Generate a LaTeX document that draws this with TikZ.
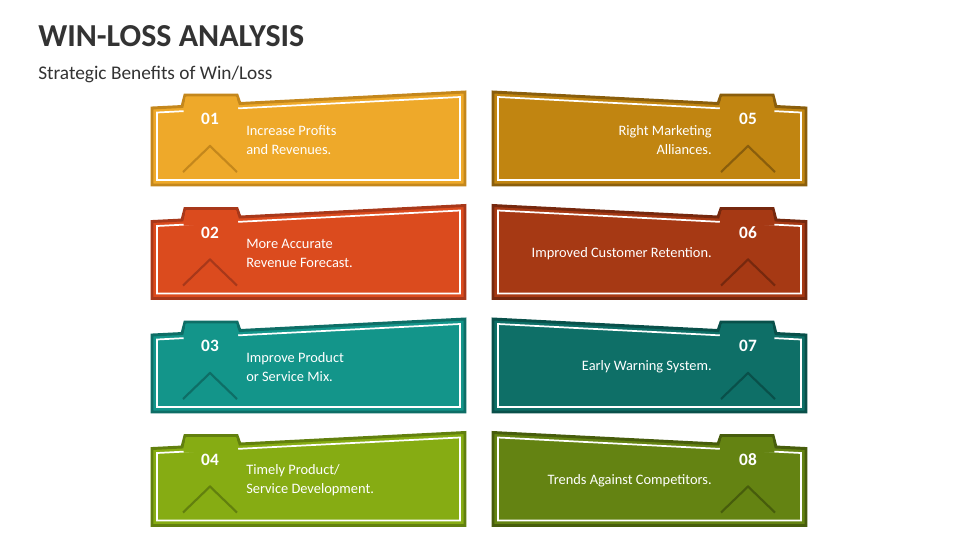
\documentclass[tikz,border=0pt]{standalone}
\usepackage{fontspec}
\setmainfont{Carlito}
\begin{document}
\begin{tikzpicture}[x=0.75pt,y=-0.75pt,
  cardtxt/.style={text=white,font=\fontsize{10.8}{14.3}\selectfont,align=left,anchor=west,inner sep=0},
  cardtxtr/.style={text=white,font=\fontsize{10.8}{14.3}\selectfont,align=right,anchor=east,inner sep=0},
  numtxt/.style={text=white,font=\bfseries\fontsize{13}{15}\selectfont,inner sep=0}]
\definecolor{cA}{HTML}{EEA92A}\definecolor{dA}{HTML}{C4871C}
\definecolor{cB}{HTML}{DB4B1E}\definecolor{dB}{HTML}{A8381A}
\definecolor{cC}{HTML}{13958A}\definecolor{dC}{HTML}{0E6E66}
\definecolor{cD}{HTML}{86AC13}\definecolor{dD}{HTML}{62800E}
\definecolor{cE}{HTML}{C18511}\definecolor{dE}{HTML}{8A5E0C}
\definecolor{cF}{HTML}{A63914}\definecolor{dF}{HTML}{76280E}
\definecolor{cG}{HTML}{0E6F67}\definecolor{dG}{HTML}{09504A}
\definecolor{cH}{HTML}{648312}\definecolor{dH}{HTML}{475D0C}
\useasboundingbox[fill=white] (0,0) rectangle (960,540);
\node[anchor=west,inner sep=0,text={rgb,255:red,51;green,51;blue,51},font=\bfseries\fontsize{24}{28}\selectfont] (title) at (38,36) {WIN-LOSS ANALYSIS};
\node[anchor=west,inner sep=0,text={rgb,255:red,51;green,51;blue,51},font=\fontsize{14.5}{17}\selectfont] (sub) at (38,74) {Strategic Benefits of Win/Loss};
\newcommand{\cardshape}[2]{%
  \draw[fill=#1,draw=#2,line width=2.2pt] (152,185)--(152,108)--(182,106.5)--(185,95)--(237,95)--(240,103.5)--(465,92)--(465,185)--cycle;
  \draw[white,line width=1.3pt] (157,180)--(157,112.5)--(460,97)--(460,180)--cycle;
  \fill[#1] (183.5,112)--(185.5,97)--(236.5,97)--(238.5,112)--cycle;
  \draw[#2,line width=1.6pt] (183,172)--(210,146)--(237,172);}
\foreach \i/\c/\d/\n/\t in {0/cA/dA/01/{Increase Profits\\and Revenues.},1/cB/dB/02/{More Accurate\\Revenue Forecast.},2/cC/dC/03/{Improve Product\\or Service Mix.},3/cD/dD/04/{Timely Product/\\Service Development.}}{
  \begin{scope}[yshift={-\i*113.5*0.75pt}]
    \cardshape{\c}{\d}
    \node[numtxt] (n\n) at (210,119) {\n};
    \node[cardtxt] (t\n) at (246,140) {\t};
  \end{scope}}
\foreach \i/\c/\d/\n/\t in {0/cE/dE/05/{Right Marketing\\Alliances.},1/cF/dF/06/{Improved Customer Retention.},2/cG/dG/07/{Early Warning System.},3/cH/dH/08/{Trends Against Competitors.}}{
  \begin{scope}[yshift={-\i*113.5*0.75pt}]
    \begin{scope}[shift={(958,0)},xscale=-1]
      \cardshape{\c}{\d}
    \end{scope}
    \node[numtxt] (n\n) at (748,119) {\n};
    \node[cardtxtr] (t\n) at (712,140) {\t};
  \end{scope}}
\end{tikzpicture}
\end{document}
